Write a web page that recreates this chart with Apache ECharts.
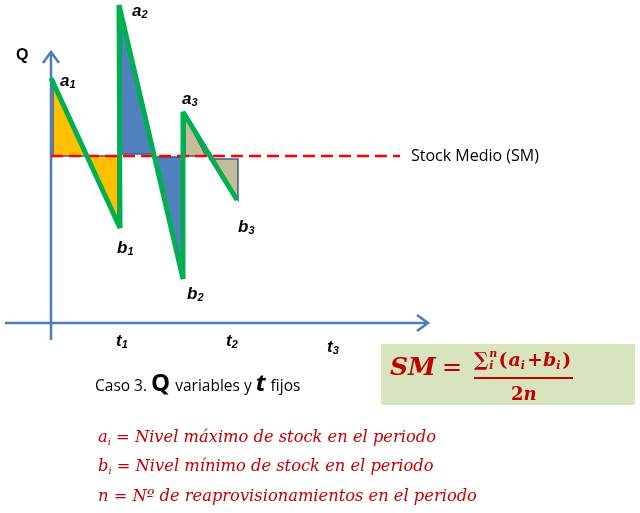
<!DOCTYPE html>
<html><head><meta charset="utf-8">
<script src="https://cdn.jsdelivr.net/npm/echarts@6/dist/echarts.min.js"></script>
<style>html,body{margin:0;padding:0;background:#fff}#c{width:640px;height:513px}</style>
</head><body><div id="c"></div>
<script>
// ---- Data (time units on x, stock Q units on y) ----
const stockPath = [[0,24.5],[6.9,9.5],[6.8,31.8],[13.2,4.4],[13.2,21.1],[18.6,12.3]];
const smLine = [[0,16.7],[34.9,16.7]];
const yellowTriangles = [
  [[0.2,23.9],[0.2,16.7],[3.5,16.7]],
  [[3.7,16.7],[6.7,16.7],[6.7,10.0]]
];
const blueTriangles = [
  [[7.0,30.9],[7.0,16.9],[10.2,16.9]],
  [[10.4,16.6],[13.1,16.6],[13.1,5.0]]
];
const tanTriangles = [
  [[13.4,20.8],[13.4,16.7],[15.5,16.7]],
  [[15.9,16.4],[18.7,16.4],[18.7,12.3]]
];
const axisLines = [[-4.6,0,37.7,0],[0,-1.7,0,27.1]];
const tickLabels = ['t','t','t'];
const tickSubs = ['1','2','3'];

// ---- text helpers ----
const mctx = document.createElement('canvas').getContext('2d');
function fontStr(p){ return (p.style||'normal')+' '+(p.weight||'normal')+' '+p.size+'px '+p.family; }
function run(x, base, parts, color){
  const els=[]; let cx=x;
  parts.forEach(p=>{
    const f=fontStr(p); mctx.font=f;
    const w=mctx.measureText(p.t).width;
    const yb = base + (p.dy||0);
    els.push({type:'text', x:cx, y:yb - 0.33*p.size, z:20,
      style:{text:p.t, font:f, fill:p.color||color, textAlign:'left', align:'left', textVerticalAlign:'middle', verticalAlign:'middle'}});
    if(!p.noAdvance) cx+=w+(p.gap||0);
  });
  return els;
}
const LBL = {style:'italic', weight:'bold', family:'Liberation Sans'};
function sub(x, base, m, s, size, ssize){
  return run(x, base, [Object.assign({t:m,size:size},LBL), Object.assign({t:s,size:ssize,dy:2},LBL)], '#000');
}

const chart = echarts.init(document.getElementById('c'));
function polySeries(tris, color){
  return {type:'custom', z:1, clip:false, data: tris.map(t=>t[0]),
    renderItem:(params, api)=>{
      const pts = tris[params.dataIndex].map(p=>api.coord(p));
      return {type:'polygon', shape:{points:pts}, style:{fill:color, stroke:'#385D8A', lineWidth:1.5}};
    }};
}
const option = {
  animation:false,
  grid:{left:0,right:0,top:0,bottom:0},
  xAxis:{type:'value', min:-5.1, max:58.9, show:false},
  yAxis:{type:'value', min:-19.0, max:32.3, show:false},
  series:[
    {type:'custom', z:2, clip:false, data:axisLines, encode:{x:[0,2], y:[1,3]},
     renderItem:(params, api)=>{
       const a=api.coord([api.value(0),api.value(1)]), b=api.coord([api.value(2),api.value(3)]);
       const dx=b[0]-a[0], dy=b[1]-a[1], L=Math.hypot(dx,dy), ux=dx/L, uy=dy/L, nx=-uy, ny=ux;
       const hl=11, hw=8;
       return {type:'group', children:[
         {type:'line', shape:{x1:a[0],y1:a[1],x2:b[0],y2:b[1]}, style:{stroke:'#4A7EBB', lineWidth:2.5}},
         {type:'polyline', shape:{points:[[b[0]-ux*hl+nx*hw,b[1]-uy*hl+ny*hw],[b[0],b[1]],[b[0]-ux*hl-nx*hw,b[1]-uy*hl-ny*hw]]},
          style:{stroke:'#4A7EBB', lineWidth:2.5, fill:null}}
       ]};
     }},
    polySeries(yellowTriangles,'#FFC000'),
    polySeries(blueTriangles,'#4F81BD'),
    polySeries(tanTriangles,'#C4BD97'),
    {type:'line', z:3, data:smLine, symbol:'none', lineStyle:{color:'#FF0000', width:2.5, type:[12,6]}},
    {type:'line', z:4, data:stockPath, symbol:'none', lineStyle:{color:'#00B050', width:5, join:'bevel'}}
  ],
  graphic:[]
};
chart.setOption(option);

// ---- annotations ----
let g=[];
g.push({type:'text', x:16, y:56, style:{text:'Q', font:'bold 16px "Liberation Sans"', fill:'#000', textVerticalAlign:'middle', verticalAlign:'middle'}});
g=g.concat(sub(60,87,'a','1',17,11));
g=g.concat(sub(132,17,'a','2',17,11));
g=g.concat(sub(182,105,'a','3',17,11));
g=g.concat(sub(117,254,'b','1',17,11));
g=g.concat(sub(187,300,'b','2',17,11));
g=g.concat(sub(238,233,'b','3',17,11));
const tx=[116,226,327], tb=[347,347,353];
tickLabels.forEach((t,i)=>{ g=g.concat(sub(tx[i],tb[i],t,tickSubs[i],17,11)); });
g.push({type:'text', x:411, y:156, style:{text:'Stock Medio (SM)', font:'16px "Open Sans"', fill:'#000', textVerticalAlign:'middle', verticalAlign:'middle'}});
// Caso 3
const OS='Open Sans';
g=g.concat(run(95,392,[
  {t:'Caso 3. ',size:15.5,family:OS},
  {t:'Q',size:24,weight:'bold',family:OS,gap:1},
  {t:' variables y ',size:15.5,family:OS},
  {t:'t',size:24,weight:'bold',style:'italic',family:OS,gap:1},
  {t:' fijos',size:15.5,family:OS}
],'#000'));
// formula box
g.push({type:'rect', shape:{x:381,y:344,width:254,height:61}, style:{fill:'#D7E4BD'}, z:10});
const RED='#C00000', DS='DejaVu Serif';
g=g.concat(run(390,377,[{t:'SM',size:25,weight:'bold',style:'italic',family:DS}],RED));
g=g.concat(run(442,377,[{t:'=',size:24,family:DS}],RED));
g=g.concat(run(474,367,[
  {t:'\u2211',size:19,weight:'bold',family:DS,gap:1},
  {t:'n',size:11,weight:'bold',style:'italic',family:DS,dy:-9,noAdvance:true},
  {t:'i',size:11,weight:'bold',style:'italic',family:DS,dy:3,gap:5},
  {t:'(',size:19,weight:'bold',family:DS,gap:1},
  {t:'a',size:19,weight:'bold',style:'italic',family:DS},
  {t:'i',size:11,weight:'bold',style:'italic',family:DS,dy:3,gap:2},
  {t:'+',size:19,weight:'bold',family:DS},
  {t:'b',size:19,weight:'bold',style:'italic',family:DS},
  {t:'i',size:11,weight:'bold',style:'italic',family:DS,dy:3,gap:2},
  {t:')',size:19,weight:'bold',family:DS}
],RED));
g.push({type:'rect', shape:{x:474,y:377,width:99,height:2}, style:{fill:RED}, z:20});
g=g.concat(run(511,401,[{t:'2',size:18,weight:'bold',family:DS},{t:'n',size:18,weight:'bold',style:'italic',family:DS}],RED));
// definitions
const DI={size:16.3,style:'italic',family:DS};
function defLine(base, m, s, rest){
  const parts=[Object.assign({t:m},DI)];
  if(s) parts.push(Object.assign({t:s},DI,{size:10,dy:3}));
  parts.push(Object.assign({t:rest},DI));
  return run(98,base,parts,RED);
}
g=g.concat(defLine(443,'a','i',' = Nivel máximo de stock en el periodo'));
g=g.concat(defLine(472,'b','i',' = Nivel mínimo de stock en el periodo'));
g=g.concat(defLine(502,'n','',' = Nº de reaprovisionamientos en el periodo'));
chart.setOption({graphic:g});
</script></body></html>
